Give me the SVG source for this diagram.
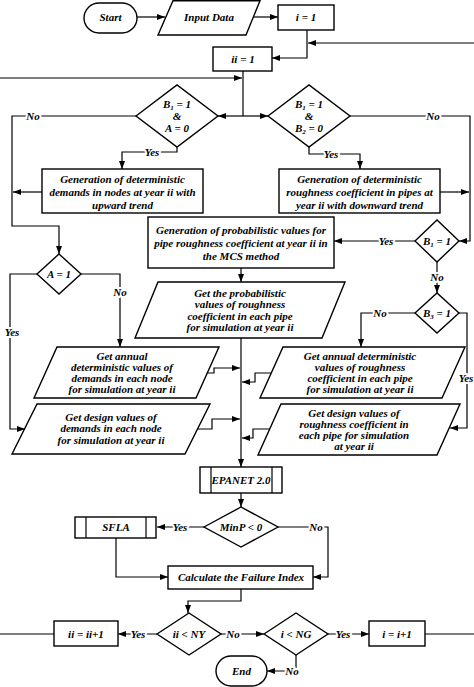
<svg xmlns="http://www.w3.org/2000/svg" width="474" height="687" viewBox="0 0 474 687">
<defs>
<marker id="ah" markerUnits="userSpaceOnUse" markerWidth="8" markerHeight="6" refX="8" refY="3" orient="auto">
<path d="M0,0 L8,3 L0,6 z" fill="#000"/>
</marker>
<style>
.s{fill:#fff;stroke:#000;stroke-width:1.4}
.c{fill:none;stroke:#000;stroke-width:1.2}
.a{fill:none;stroke:#000;stroke-width:1.2;marker-end:url(#ah)}
text{font-family:"Liberation Serif","Times New Roman",serif;font-weight:bold;font-style:italic;font-size:11px;fill:#000;text-anchor:middle}
.l{stroke:#fff;stroke-width:4;paint-order:stroke fill;stroke-linejoin:round}
.sub{font-size:7px}
</style>
</defs>
<rect width="474" height="687" fill="#fff"/>

<g id="connectors">
<path class="a" d="M137,17 H165"/>
<path class="a" d="M253,17 H278"/>
<path class="a" d="M307,30 V58 H272"/>
<path class="a" d="M474,43 H308"/>
<path class="a" d="M0,78 H242"/>
<path class="c" d="M243,71 V116"/>
<path class="a" d="M243,116 H218"/>
<path class="a" d="M243,116 H268"/>
<path class="a" d="M136,116 H12 V226 H59 V254"/>
<path class="a" d="M177,147 V152 H122 V169"/>
<path class="a" d="M309,147 V154 H360 V169"/>
<path class="a" d="M350,116 H470 V241 H459"/>
<path class="a" d="M42,192 H13"/>
<path class="a" d="M440,192 H469"/>
<path class="a" d="M415,241 H334"/>
<path class="a" d="M437,262 V293"/>
<path class="a" d="M415,313 H361 V347"/>
<path class="a" d="M459,313 H467 V428 H450"/>
<path class="a" d="M241,268 V282"/>
<path class="a" d="M241,338 V467"/>
<path class="a" d="M37,274 H10 V429 H25"/>
<path class="a" d="M81,274 H120 V347"/>
<path class="a" d="M207,373 H214 V368 H240"/>
<path class="a" d="M198,429 H212 V419 H240"/>
<path class="a" d="M271,373 H255 V382 H242"/>
<path class="a" d="M270,429 H253 V438 H242"/>
<path class="a" d="M241,493 V507"/>
<path class="a" d="M204,527 H157"/>
<path class="a" d="M278,527 H328 V577 H313"/>
<path class="a" d="M116,538 V577 H168"/>
<path class="a" d="M241,589 V601 H188 V613"/>
<path class="a" d="M157,634 H118"/>
<path class="c" d="M54,634 H0"/>
<path class="a" d="M221,634 H264"/>
<path class="a" d="M328,634 H369"/>
<path class="c" d="M425,634 H474"/>
<path class="a" d="M296,655 V671 H267"/>
<text class="l" x="33" y="120">No</text>
<text class="l" x="433" y="120">No</text>
<text class="l" x="152" y="156">Yes</text>
<text class="l" x="331" y="158">Yes</text>
<text class="l" x="386" y="245">Yes</text>
<text class="l" x="437" y="281">No</text>
<text class="l" x="380" y="317">No</text>
<text class="l" x="466" y="382">Yes</text>
<text class="l" x="12" y="336">Yes</text>
<text class="l" x="120" y="296">No</text>
<text class="l" x="180" y="531">Yes</text>
<text class="l" x="316" y="531">No</text>
<text class="l" x="138" y="638">Yes</text>
<text class="l" x="233" y="638">No</text>
<text class="l" x="343" y="638">Yes</text>
<text class="l" x="292" y="675">No</text>
</g>

<g id="start">
<rect class="s" x="84" y="3" width="53" height="30" rx="15"/>
<text x="110.5" y="21">Start</text>
</g>
<g id="input">
<polygon class="s" points="173,0.7 260,0.7 246,35 158,35"/>
<text x="209" y="21">Input Data</text>
</g>
<g id="i1">
<rect class="s" x="278" y="5" width="56" height="25"/>
<text x="306" y="21">i = 1</text>
</g>
<g id="ii1">
<rect class="s" x="213" y="47" width="59" height="24"/>
<text x="243" y="63">ii = 1</text>
</g>
<g id="d1">
<polygon class="s" points="136,116 177,85 218,116 177,147"/>
<text x="177" y="108">B<tspan class="sub" dy="2">1</tspan><tspan dy="-2"> = 1</tspan></text>
<text x="177" y="120">&amp;</text>
<text x="177" y="132">A = 0</text>
</g>
<g id="d2">
<polygon class="s" points="268,116 309,85 350,116 309,147"/>
<text x="309" y="108">B<tspan class="sub" dy="2">1</tspan><tspan dy="-2"> = 1</tspan></text>
<text x="309" y="120">&amp;</text>
<text x="309" y="132">B<tspan class="sub" dy="2">2</tspan><tspan dy="-2"> = 0</tspan></text>
</g>
<g id="box1">
<rect class="s" x="42" y="169" width="161" height="44"/>
<text x="122.5" y="183">Generation of deterministic</text>
<text x="122.5" y="196">demands in nodes at year ii with</text>
<text x="122.5" y="209">upward trend</text>
</g>
<g id="box2">
<rect class="s" x="279" y="169" width="161" height="44"/>
<text x="359.5" y="183">Generation of deterministic</text>
<text x="359.5" y="196">roughness coefficient in pipes at</text>
<text x="359.5" y="209">year ii with downward trend</text>
</g>
<g id="box3">
<rect class="s" x="148" y="217" width="186" height="51"/>
<text x="241" y="234">Generation of probabilistic values for</text>
<text x="241" y="247">pipe roughness coefficient at year ii in</text>
<text x="241" y="260">the MCS method</text>
</g>
<g id="b1">
<polygon class="s" points="415,241 437,220 459,241 437,262"/>
<text x="437" y="245">B<tspan class="sub" dy="2">1</tspan><tspan dy="-2"> = 1</tspan></text>
</g>
<g id="b3">
<polygon class="s" points="415,313 437,293 459,313 437,333"/>
<text x="437" y="317">B<tspan class="sub" dy="2">3</tspan><tspan dy="-2"> = 1</tspan></text>
</g>
<g id="a1">
<polygon class="s" points="37,274 59,254 81,274 59,294"/>
<text x="59" y="278">A = 1</text>
</g>
<g id="pc">
<polygon class="s" points="158,282 345,282 322,338 135,338"/>
<text x="240" y="297">Get the probabilistic</text>
<text x="240" y="308">values of roughness</text>
<text x="240" y="320">coefficient in each pipe</text>
<text x="240" y="331">for simulation at year ii</text>
</g>
<g id="l1">
<polygon class="s" points="57,347 219,347 196,398 34,398"/>
<text x="122" y="360">Get annual</text>
<text x="122" y="371">deterministic values of</text>
<text x="122" y="382">demands in each node</text>
<text x="122" y="393">for simulation at year ii</text>
</g>
<g id="l2">
<polygon class="s" points="37,404 210,404 185,454 12,454"/>
<text x="111" y="421">Get design values of</text>
<text x="111" y="432">demands in each node</text>
<text x="111" y="444">for simulation at year ii</text>
</g>
<g id="r1">
<polygon class="s" points="283,347 465,347 442,398 260,398"/>
<text x="360" y="360">Get annual deterministic</text>
<text x="360" y="371">values of roughness</text>
<text x="360" y="382">coefficient in each pipe</text>
<text x="360" y="393">for simulation at year ii</text>
</g>
<g id="r2">
<polygon class="s" points="281,404 460,404 437,455 258,455"/>
<text x="354" y="417">Get design values of</text>
<text x="354" y="428">roughness coefficient in</text>
<text x="354" y="439">each pipe for simulation</text>
<text x="354" y="450">at year ii</text>
</g>
<g id="epanet">
<rect class="s" x="200" y="467" width="82" height="26"/>
<path class="c" d="M211,467 V493 M272,467 V493"/>
<text x="241" y="484">EPANET 2.0</text>
</g>
<g id="minp">
<polygon class="s" points="204,527 241,507 278,527 241,547"/>
<text x="241" y="531">MinP &lt; 0</text>
</g>
<g id="sfla">
<rect class="s" x="75" y="517" width="81" height="21"/>
<path class="c" d="M86,517 V538 M146,517 V538"/>
<text x="116" y="531">SFLA</text>
</g>
<g id="calc">
<rect class="s" x="168" y="566" width="145" height="23"/>
<text x="241" y="581">Calculate the Failure Index</text>
</g>
<g id="iiny">
<polygon class="s" points="157,634 189,613 221,634 189,655"/>
<text x="189" y="638">ii &lt; NY</text>
</g>
<g id="iinc">
<rect class="s" x="54" y="621" width="64" height="25"/>
<text x="86" y="638">ii = ii+1</text>
</g>
<g id="ing">
<polygon class="s" points="264,634 296,613 328,634 296,655"/>
<text x="296" y="638">i &lt; NG</text>
</g>
<g id="iinc2">
<rect class="s" x="369" y="621" width="56" height="25"/>
<text x="397" y="638">i = i+1</text>
</g>
<g id="end">
<rect class="s" x="216" y="656" width="51" height="30" rx="15"/>
<text x="241.5" y="675">End</text>
</g>
</svg>
